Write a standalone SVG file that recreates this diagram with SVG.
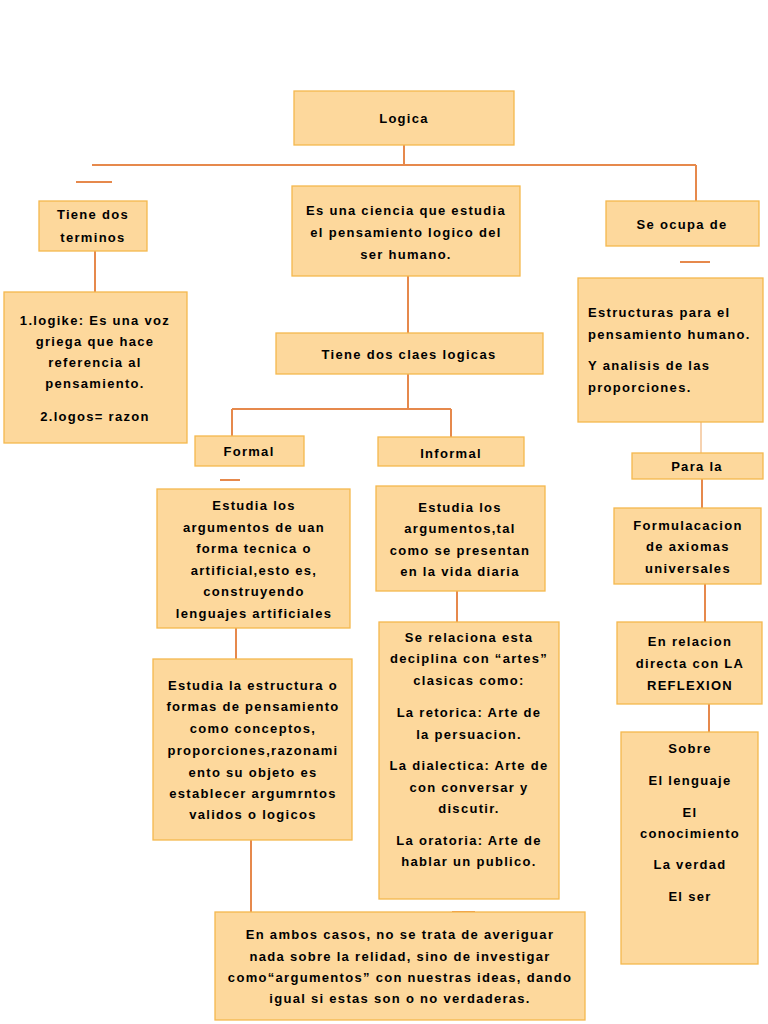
<svg xmlns="http://www.w3.org/2000/svg" width="768" height="1024" viewBox="0 0 768 1024">
<style>
.b{fill:#FDD89C;stroke:#F4B84E;stroke-width:1.3}
.t{font-family:"Liberation Sans",Arial,sans-serif;font-weight:bold;font-size:13px;letter-spacing:1.3px;fill:#000;text-anchor:middle}
.l{stroke:#E6894C;stroke-width:2;fill:none}
</style>
<rect width="768" height="1024" fill="#fff"/>
<g id="connectors">
<path class="l" d="M404 145V165M92 165H696M696 165V201M76 182H112M95 251V292M408 276V333M408 374V409M232 409H451M232 409V436M451 409V437M220 480H240M236 628V659M457 591V622M251 840V912M452 912H475M680 262H710M702 479V508M705 584V622M709 704V732"/>
<path d="M701 422V453" stroke="#F6D2B0" stroke-width="2"/>
</g>
<g id="logica"><rect class="b" x="294" y="91" width="220" height="54"/><text class="t" x="404" y="123">Logica</text></g>
<g id="tiene"><rect class="b" x="39" y="201" width="108" height="50"/><text class="t" x="93" y="219">Tiene dos</text><text class="t" x="93" y="242">terminos</text></g>
<g id="ciencia"><rect class="b" x="292" y="186" width="228" height="90"/><text class="t" x="406" y="215">Es una ciencia que estudia</text><text class="t" x="406" y="237">el pensamiento logico del</text><text class="t" x="406" y="259">ser humano.</text></g>
<g id="ocupa"><rect class="b" x="606" y="201" width="153" height="45"/><text class="t" x="682" y="229">Se ocupa de</text></g>
<g id="logike"><rect class="b" x="4" y="292" width="183" height="151"/><text class="t" x="95" y="325">1.logike: Es una voz</text><text class="t" x="95" y="346">griega que hace</text><text class="t" x="95" y="367">referencia al</text><text class="t" x="95" y="388">pensamiento.</text><text class="t" x="95" y="421">2.logos= razon</text></g>
<g id="claes"><rect class="b" x="276" y="333" width="267" height="41"/><text class="t" x="409" y="359">Tiene dos claes logicas</text></g>
<g id="estructuras"><rect class="b" x="578" y="278" width="185" height="144"/><g class="t" style="text-anchor:start"><text x="588" y="317">Estructuras para el</text><text x="588" y="339">pensamiento humano.</text><text x="588" y="370">Y analisis de las</text><text x="588" y="392">proporciones.</text></g></g>
<g id="formal"><rect class="b" x="195" y="436" width="109" height="30"/><text class="t" x="249" y="456">Formal</text></g>
<g id="informal"><rect class="b" x="378" y="437" width="146" height="29"/><text class="t" x="451" y="458">Informal</text></g>
<g id="parala"><rect class="b" x="632" y="453" width="131" height="26"/><text class="t" x="697" y="471">Para la</text></g>
<g id="formaltxt"><rect class="b" x="157" y="489" width="193" height="139"/><text class="t" x="254" y="510">Estudia los</text><text class="t" x="254" y="532">argumentos de uan</text><text class="t" x="254" y="553">forma tecnica o</text><text class="t" x="254" y="575">artificial,esto es,</text><text class="t" x="254" y="596">construyendo</text><text class="t" x="254" y="618">lenguajes artificiales</text></g>
<g id="informaltxt"><rect class="b" x="376" y="486" width="169" height="105"/><text class="t" x="460" y="512">Estudia los</text><text class="t" x="460" y="533">argumentos,tal</text><text class="t" x="460" y="555">como se presentan</text><text class="t" x="460" y="576">en la vida diaria</text></g>
<g id="formulacion"><rect class="b" x="614" y="508" width="147" height="76"/><text class="t" x="688" y="530">Formulacacion</text><text class="t" x="688" y="551">de axiomas</text><text class="t" x="688" y="573">universales</text></g>
<g id="relacion"><rect class="b" x="617" y="622" width="145" height="82"/><text class="t" x="690" y="646">En relacion</text><text class="t" x="690" y="668">directa con LA</text><text class="t" x="690" y="690">REFLEXION</text></g>
<g id="estructura"><rect class="b" x="153" y="659" width="199" height="181"/><text class="t" x="253" y="690">Estudia la estructura o</text><text class="t" x="253" y="711">formas de pensamiento</text><text class="t" x="253" y="733">como conceptos,</text><text class="t" x="253" y="755">proporciones,razonami</text><text class="t" x="253" y="777">ento su objeto es</text><text class="t" x="253" y="798">establecer argumrntos</text><text class="t" x="253" y="819">validos o logicos</text></g>
<g id="artes"><rect class="b" x="379" y="622" width="180" height="277"/><text class="t" x="469" y="642">Se relaciona esta</text><text class="t" x="469" y="663">deciplina con “artes”</text><text class="t" x="469" y="685">clasicas como:</text><text class="t" x="469" y="717">La retorica: Arte de</text><text class="t" x="469" y="739">la persuacion.</text><text class="t" x="469" y="770">La dialectica: Arte de</text><text class="t" x="469" y="792">con conversar y</text><text class="t" x="469" y="813">discutir.</text><text class="t" x="469" y="845">La oratoria: Arte de</text><text class="t" x="469" y="866">hablar un publico.</text></g>
<g id="sobre"><rect class="b" x="621" y="732" width="137" height="232"/><text class="t" x="690" y="753">Sobre</text><text class="t" x="690" y="785">El lenguaje</text><text class="t" x="690" y="817">El</text><text class="t" x="690" y="838">conocimiento</text><text class="t" x="690" y="869">La verdad</text><text class="t" x="690" y="901">El ser</text></g>
<g id="ambos"><rect class="b" x="215" y="912" width="370" height="108"/><text class="t" x="400" y="939">En ambos casos, no se trata de averiguar</text><text class="t" x="400" y="961">nada sobre la relidad, sino de investigar</text><text class="t" x="400" y="982">como“argumentos” con nuestras ideas, dando</text><text class="t" x="400" y="1003">igual si estas son o no verdaderas.</text></g>
</svg>
